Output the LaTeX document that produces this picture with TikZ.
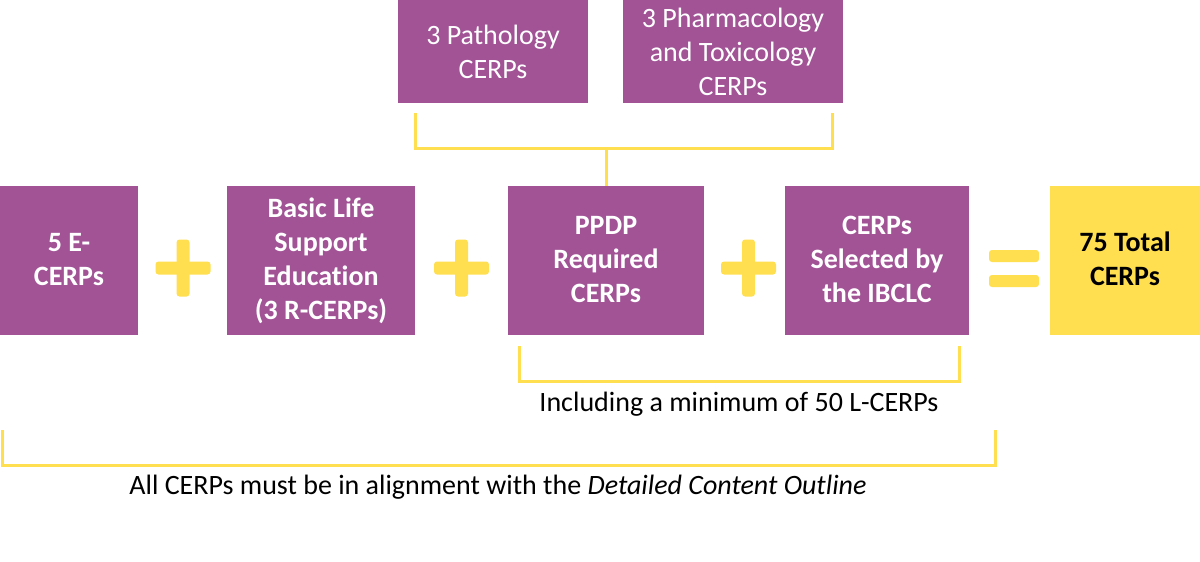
\documentclass[tikz,border=0pt]{standalone}
\usepackage{fontspec}
\setmainfont[Ligatures=NoCommon]{Carlito}
\usepackage{tikz}
\usetikzlibrary{calc}
\definecolor{cerppurple}{RGB}{161,83,150}
\definecolor{cerpyellow}{RGB}{255,223,80}

\begin{document}
\begin{tikzpicture}[x=0.5pt, y=-0.5pt, line join=miter,
  box/.style={fill=cerppurple, text=white, align=center, inner sep=0pt,
    font=\fontsize{14}{17}\selectfont},
  boldbox/.style={box, minimum height=74.5pt, text depth=1.5pt, font=\fontsize{14}{17}\selectfont\bfseries},
  bracket/.style={draw=cerpyellow, line width=1.5pt},
  sign/.style={fill=cerpyellow, rounded corners=1.5pt},
  note/.style={font=\fontsize{14}{17}\selectfont}]
  \useasboundingbox (0,0) rectangle (1200,562);

  % Top boxes feeding the PPDP box
  \node[box, minimum width=95pt, minimum height=51.5pt] (patho) at (493,51.5) {3 Pathology\\CERPs};
  \node[box, minimum width=110pt, minimum height=51.5pt] (pharma) at (733,51.5) {3 Pharmacology\\and Toxicology\\CERPs};

  % Main row
  \node[boldbox, minimum width=69pt] (ecerp) at (69,260.5) {5 E-\\CERPs};
  \node[boldbox, minimum width=94pt] (bls) at (321,260.5) {Basic Life\\Support\\Education\\(3 R-CERPs)};
  \node[boldbox, minimum width=98pt] (ppdp) at (606,260.5) {PPDP\\Required\\CERPs};
  \node[boldbox, minimum width=92pt] (select) at (877,260.5) {CERPs\\Selected by\\the IBCLC};
  \node[boldbox, fill=cerpyellow, text=black, minimum width=75pt] (total) at (1125,260.5) {75 Total\\CERPs};

  % Plus and equals signs
  \foreach \px in {183,461.5,748.5} {
    \fill[sign] (\px-27.5,261.5) rectangle (\px+27.5,274.5);
    \fill[sign] (\px-6.5,239.5) rectangle (\px+6.5,296.5);
  }
  \fill[sign] (989,250) rectangle (1039,262);
  \fill[sign] (989,275) rectangle (1039,287);

  % Top bracket
  \coordinate (topl) at (415,113);
  \coordinate (topr) at (832,113);
  \draw[bracket] (topl) -- (415,148.5) -- (832,148.5) -- (topr);
  \draw[bracket] (ppdp.north) -- (606,148.5);

  % Bracket under PPDP and selected CERPs
  \coordinate (midl) at (519,346);
  \coordinate (midr) at (959,346);
  \draw[bracket] (midl) -- (519,381) -- (959,381) -- (midr);
  \node[note] (minnote) at (739,404) {Including a minimum of 50 L-CERPs};

  % Bracket under the whole row
  \coordinate (lowl) at (2.5,430);
  \coordinate (lowr) at (995,430);
  \draw[bracket] (lowl) -- (2.5,465.5) -- (995,465.5) -- (lowr);
  \node[note] (dconote) at (498,487) {All CERPs must be in alignment with the \textit{Detailed Content Outline}};
\end{tikzpicture}
\end{document}
